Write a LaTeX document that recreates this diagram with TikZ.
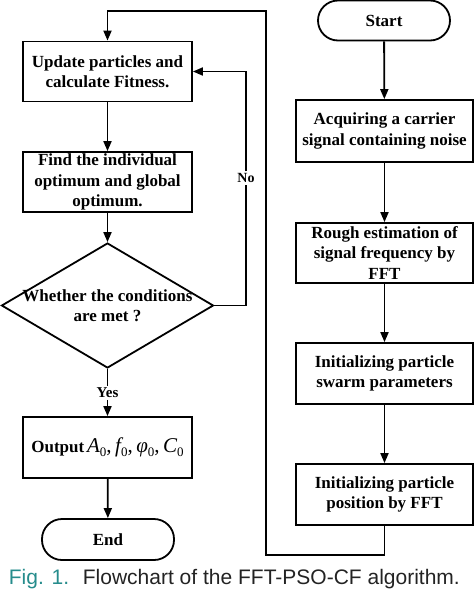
\documentclass[tikz,border=0pt]{standalone}
\usepackage{fontspec}
\setmainfont{Liberation Serif}
\newfontfamily\capfont{Liberation Sans}
\usetikzlibrary{shapes.geometric,arrows.meta}
\definecolor{figteal}{RGB}{38,140,140}
\definecolor{capgray}{RGB}{35,35,35}
\newcommand\subz{\raisebox{-0.4ex}{\fontsize{13}{13}\selectfont\upshape 0}}
\begin{document}
\begin{tikzpicture}[x=1pt,y=-1pt,
  line width=1.8pt,
  >={Triangle[length=10pt,width=8pt]},
  boxtxt/.style={font=\fontsize{17}{20.5}\selectfont\bfseries, align=center},
  procbox/.style={draw, boxtxt, inner sep=0pt, minimum width=169pt, minimum height=60pt},
  rprocbox/.style={procbox, minimum width=177pt},
  termbox/.style={draw, boxtxt, rounded corners=20pt, minimum width=132pt, minimum height=40pt, inner sep=0pt},
  decision/.style={draw, diamond, inner sep=0pt, minimum width=212pt, minimum height=125pt},
  smalllab/.style={fill=white, inner sep=1pt, font=\fontsize{14}{14}\selectfont\bfseries}
]
\useasboundingbox (0,0) rectangle (474,595);
% left column
\node[procbox] (upd) at (107.5,71.5) {Update particles and\\calculate Fitness.};
\node[procbox] (find) at (107.5,182) {Find the individual\\optimum and global\\optimum.};
\node[decision, label={[boxtxt]center:Whether the conditions\\are met ?}] (dec) at (107.5,305.5) {};
\node[smalllab, font=\fontsize{15}{15}\selectfont\bfseries] (yes) at (107.5,393) {Yes};
\node[procbox, minimum height=61pt] (out) at (107.5,447.5) {Output\,{\fontsize{21}{21}\selectfont\mdseries\itshape A\subz\upshape,\,\itshape f\subz\upshape,\,\itshape φ\subz\upshape,\,\itshape C\subz}};
\node[termbox, minimum height=41pt] (end) at (108,539.5) {End};
\node[smalllab] (no) at (246,178) {No};
% right column
\node[termbox] (start) at (384,20.5) {Start};
\node[rprocbox, minimum height=62pt] (acq) at (384.5,131) {Acquiring a carrier\\signal containing noise};
\node[rprocbox] (rough) at (384.5,253) {Rough estimation of\\signal frequency by\\FFT};
\node[rprocbox, minimum height=61pt] (init1) at (384.5,373.5) {Initializing particle\\swarm parameters};
\node[rprocbox, minimum height=61pt] (init2) at (384.5,494.5) {Initializing particle\\position by FFT};
% loop coordinates
\coordinate (lb) at (384.5,555);
\coordinate (lbl) at (266,555);
\coordinate (ltl) at (266,11);
\coordinate (ltr) at (107.5,11);
\coordinate (nr) at (246,305.5);
\coordinate (nt) at (246,71.5);
% connectors
\draw[->] (upd) -- (find);
\draw[->] (find) -- (dec);
\draw (dec.south) -- (yes.north);
\draw[->] (yes.south) -- (out.north);
\draw[->] (out) -- (end);
\draw (dec.east) -- (nr) -- (no.south);
\draw[->] (no.north) -- (nt) -- (upd.east);
\draw[->] (start) -- (acq);
\draw[->] (acq) -- (rough);
\draw[->] (rough) -- (init1);
\draw[->] (init1) -- (init2);
\draw[->] (init2.south) -- (lb) -- (lbl) -- (ltl) -- (ltr) -- (upd.north);
% caption
\node[anchor=base west, inner sep=0pt, font=\capfont\fontsize{21}{21}\selectfont, text=figteal] (fig) at (8,584) {Fig. 1.};
\node[anchor=base west, inner sep=0pt, font=\capfont\fontsize{21}{21}\selectfont, text=capgray] (cap) at (82,584) {Flowchart of the FFT-PSO-CF algorithm.};
\end{tikzpicture}
\end{document}
